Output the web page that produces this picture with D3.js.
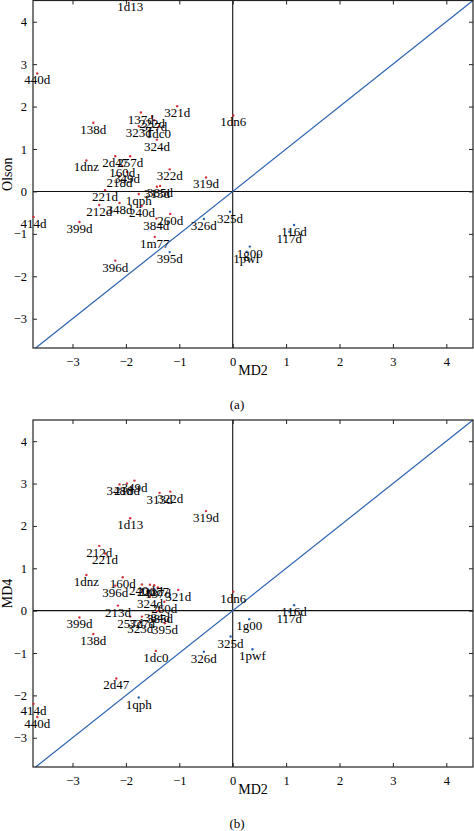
<!DOCTYPE html>
<html>
<head>
<meta charset="utf-8">
<script src="https://cdn.jsdelivr.net/npm/d3@7/dist/d3.min.js"></script>
<style>
  body { margin: 0; background: #fff; }
  text { font-family: "Liberation Serif", "Times New Roman", serif; fill: #000; }
</style>
</head>
<body>
<svg id="chart" width="474" height="831"></svg>
<script>
// Panel (a): MD2 vs Olson
var idsA = ['1d13', '440d', '414d', '321d', '138d', '1dn6', '137d', '222d', '327d', '323d',
  '1dc0', '324d', '1dnz', '2d47', '257d', '160d', '218d', '349d', '322d', '319d',
  '313d', '385d', '221d', '1qph', '212d', '348d', '240d', '384d', '260d', '399d',
  '1m77', '395d', '396d', '326d', '325d', '116d', '117d', '1g00', '1pwf'];
var md2A = [-1.92, -3.66, -3.73, -1.04, -2.61, 0.01, -1.72, -1.51, -1.47, -1.76,
  -1.39, -1.42, -2.74, -2.20, -1.92, -2.07, -2.12, -1.98, -1.18, -0.50,
  -1.42, -1.36, -2.39, -1.76, -2.50, -2.12, -1.70, -1.43, -1.17, -2.87,
  -1.46, -1.18, -2.20, -0.54, -0.05, 1.15, 1.06, 0.32, 0.26];
var olsonA = [4.52, 2.78, -0.60, 2.01, 1.62, 1.79, 1.86, 1.76, 1.68, 1.54,
  1.52, 1.22, 0.73, 0.83, 0.83, 0.60, 0.36, 0.46, 0.52, 0.33,
  0.11, 0.13, 0.03, -0.06, -0.32, -0.27, -0.34, -0.64, -0.53, -0.72,
  -1.07, -1.43, -1.63, -0.65, -0.48, -0.79, -0.95, -1.30, -1.42];

// Panel (b): MD2 vs MD4
var idsB = ['1d13', '348d', '218d', '349d', '313d', '322d', '319d', '212d', '221d', '1dnz',
  '160d', '396d', '240d', '222d', '1m77', '137d', '321d', '1dn6', '324d', '260d',
  '213d', '384d', '385d', '257d', '327d', '323d', '395d', '399d', '138d', '1dc0',
  '326d', '325d', '2d47', '1qph', '414d', '440d', '116d', '117d', '1g00', '1pwf'];
var md2B = [-1.92, -2.12, -1.98, -1.84, -1.37, -1.17, -0.50, -2.50, -2.39, -2.74,
  -2.06, -2.20, -1.70, -1.55, -1.47, -1.40, -1.02, 0.01, -1.55, -1.28,
  -2.15, -1.42, -1.36, -1.92, -1.70, -1.73, -1.27, -2.87, -2.61, -1.44,
  -0.54, -0.04, -2.18, -1.76, -3.73, -3.66, 1.15, 1.06, 0.31, 0.37];
var md4B = [2.18, 2.98, 3.00, 3.07, 2.78, 2.81, 2.35, 1.53, 1.35, 0.84,
  0.79, 0.59, 0.62, 0.61, 0.60, 0.55, 0.49, 0.45, 0.33, 0.21,
  0.12, -0.01, -0.02, -0.14, -0.14, -0.26, -0.30, -0.16, -0.55, -0.95,
  -0.97, -0.61, -1.60, -2.05, -2.20, -2.51, 0.13, -0.02, -0.20, -0.91];

// Axis ticks and limits shared by both panels
var tickVals = [-3, -2, -1, 0, 1, 2, 3, 4];
var xDomain = [-3.74, 4.5];
var yDomain = [-3.69, 4.5];

var svg = d3.select('#chart');
var left = 33, right = 473;

function drawPanel(ids, xs, ys, top, bottom, yTitle, caption) {
  var x = d3.scaleLinear().domain(xDomain).range([left, right]);
  var y = d3.scaleLinear().domain(yDomain).range([bottom, top]);
  var g = svg.append('g');

  // zero lines
  g.append('line')
    .attr('x1', x(0)).attr('x2', x(0))
    .attr('y1', top).attr('y2', bottom)
    .attr('stroke', '#111').attr('stroke-width', 1.1);
  g.append('line')
    .attr('x1', left).attr('x2', right)
    .attr('y1', y(0)).attr('y2', y(0))
    .attr('stroke', '#111').attr('stroke-width', 1.1);

  // y = x diagonal
  var lo = Math.max(xDomain[0], yDomain[0]);
  g.append('line')
    .attr('x1', x(lo)).attr('y1', y(lo))
    .attr('x2', x(4.5)).attr('y2', y(4.5))
    .attr('stroke', '#2b62b0').attr('stroke-width', 1.2);

  // axes, inward ticks on all four sides
  var bx = g.append('g')
    .attr('transform', 'translate(0,' + bottom + ')')
    .call(d3.axisBottom(x).tickValues(tickVals).tickSize(-4).tickPadding(9));
  var tx = g.append('g')
    .attr('transform', 'translate(0,' + top + ')')
    .call(d3.axisTop(x).tickValues(tickVals).tickSize(-4).tickFormat(''));
  var ly = g.append('g')
    .attr('transform', 'translate(' + left + ',0)')
    .call(d3.axisLeft(y).tickValues(tickVals).tickSize(-4).tickPadding(6));
  var ry = g.append('g')
    .attr('transform', 'translate(' + right + ',0)')
    .call(d3.axisRight(y).tickValues(tickVals).tickSize(-4).tickFormat(''));
  [bx, tx, ly, ry].forEach(function(a) {
    a.select('.domain').remove();
    a.selectAll('line').attr('stroke', '#222');
    a.selectAll('text')
      .style('font-family', '"Liberation Serif", serif')
      .style('font-size', '12.5px')
      .attr('fill', '#000');
  });

  // frame
  g.append('rect')
    .attr('x', left).attr('y', top)
    .attr('width', right - left).attr('height', bottom - top)
    .attr('fill', 'none').attr('stroke', '#222').attr('stroke-width', 1.2);

  // points: red above the diagonal, blue below
  var pts = ids.map(function(id, i) { return {id: id, x: xs[i], y: ys[i]}; });
  g.selectAll('circle.pt')
    .data(pts)
    .enter().append('circle')
    .attr('class', 'pt')
    .attr('r', 1.2)
    .attr('cx', function(d) { return x(d.x); })
    .attr('cy', function(d) { return y(d.y); })
    .attr('fill', function(d) { return d.y > d.x ? '#d0303a' : '#2b62b0'; });

  g.selectAll('text.lbl')
    .data(pts)
    .enter().append('text')
    .attr('class', 'lbl')
    .attr('x', function(d) { return x(d.x); })
    .attr('y', function(d) { return y(d.y) + 11; })
    .attr('text-anchor', 'middle')
    .style('font-size', '13px')
    .text(function(d) { return d.id; });

  // titles
  g.append('text')
    .attr('x', (left + right) / 2)
    .attr('y', bottom + 27)
    .attr('text-anchor', 'middle')
    .style('font-size', '14px')
    .text('MD2');
  g.append('text')
    .attr('transform', 'translate(12,' + ((top + bottom) / 2) + ') rotate(-90)')
    .attr('text-anchor', 'middle')
    .style('font-size', '14px')
    .text(yTitle);
  g.append('text')
    .attr('x', 237)
    .attr('y', bottom + 61)
    .attr('text-anchor', 'middle')
    .style('font-size', '13px')
    .text(caption);
}

drawPanel(idsA, md2A, olsonA, 0.5, 348, 'Olson', '(a)');
drawPanel(idsB, md2B, md4B, 420, 767, 'MD4', '(b)');
</script>
</body>
</html>
